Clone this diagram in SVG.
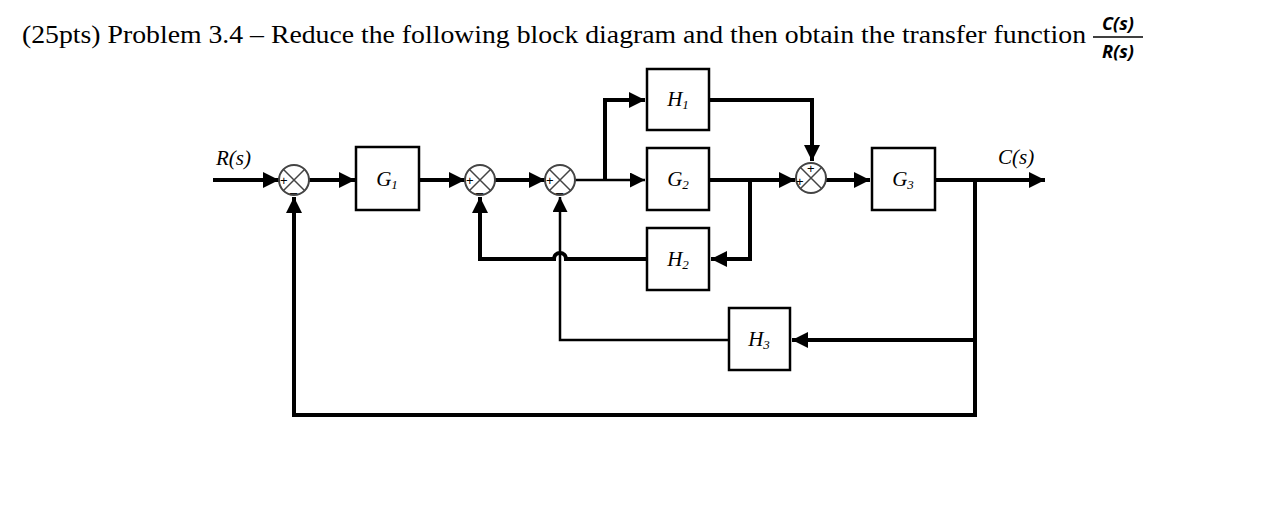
<svg xmlns="http://www.w3.org/2000/svg" width="1264" height="506" viewBox="0 0 1264 506">
<style>
.t{font-family:"Liberation Serif",serif;font-size:26px;fill:#000}
.lb{font-family:"Liberation Serif",serif;font-style:italic;font-size:21px;fill:#000}
.s{font-family:"Liberation Sans",sans-serif;font-size:13px;fill:#000}
.box{fill:#fff;stroke:#000;stroke-width:2.5}
.sum{fill:#fff;stroke:#444;stroke-width:2}
.w{fill:none;stroke:#000;stroke-width:4}
.wt{fill:none;stroke:#000;stroke-width:2.5}
</style>
<defs>
<marker id="a" viewBox="0 0 10 10" refX="10" refY="5" markerWidth="5" markerHeight="4" orient="auto" markerUnits="strokeWidth"><path d="M0,0L10,5L0,10z" fill="#000"/></marker>
<marker id="b" viewBox="0 0 10 10" refX="10" refY="5" markerWidth="8" markerHeight="6" orient="auto" markerUnits="strokeWidth"><path d="M0,0L10,5L0,10z" fill="#000"/></marker>
</defs>
<text class="t" x="22" y="43" textLength="1064" lengthAdjust="spacingAndGlyphs">(25pts) Problem 3.4 – Reduce the following block diagram and then obtain the transfer function</text>
<g font-family="'Noto Sans',sans-serif" font-style="italic" font-weight="bold" font-size="18" text-anchor="middle"><text x="1118" y="30">C(s)</text><text x="1118" y="58">R(s)</text></g>
<line x1="1093" y1="37" x2="1143" y2="37" stroke="#000" stroke-width="1.5"/>
<g id="connectors">
<path class="w" d="M213,180H279" marker-end="url(#a)"/>
<path class="w" d="M309,180H355" marker-end="url(#a)"/>
<path class="w" d="M419,180H465" marker-end="url(#a)"/>
<path class="w" d="M495,180H545" marker-end="url(#a)"/>
<path class="wt" d="M575,180H645" marker-end="url(#b)"/>
<path class="w" d="M605,180V100H645" marker-end="url(#a)"/>
<path class="w" d="M709,100H812V161" marker-end="url(#a)"/>
<path class="w" d="M709,180H795" marker-end="url(#a)"/>
<path class="w" d="M750,180V259H711" marker-end="url(#a)"/>
<path class="w" d="M647,259H566A6,6 0 0 0 554,259H480V197" marker-end="url(#a)"/>
<path class="w" d="M826,180H870" marker-end="url(#a)"/>
<path class="w" d="M935,180H1045" marker-end="url(#a)"/>
<path class="w" d="M975,180V340H792" marker-end="url(#a)"/>
<path class="wt" d="M729,340H560V197" marker-end="url(#b)"/>
<path class="w" d="M975,340V415H294V197" marker-end="url(#a)"/>
</g>
<g id="S1"><circle class="sum" cx="294" cy="180" r="15"/><path d="M283,169L305,191M305,169L283,191" stroke="#444" stroke-width="1.5"/><text class="s" x="280" y="185">+</text><text class="s" x="290" y="197">–</text></g>
<g id="S2"><circle class="sum" cx="480" cy="180" r="15"/><path d="M469,169L491,191M491,169L469,191" stroke="#444" stroke-width="1.5"/><text class="s" x="466" y="185">+</text><text class="s" x="476" y="197">–</text></g>
<g id="S3"><circle class="sum" cx="560" cy="180" r="15"/><path d="M549,169L571,191M571,169L549,191" stroke="#444" stroke-width="1.5"/><text class="s" x="546" y="185">+</text><text class="s" x="556" y="197">–</text></g>
<g id="S4"><circle class="sum" cx="811" cy="178" r="15"/><path d="M800,167L822,189M822,167L800,189" stroke="#444" stroke-width="1.5"/><text class="s" x="807" y="173">+</text><text class="s" x="796" y="186">+</text></g>
<g id="G1"><rect class="box" x="356" y="147" width="63" height="63"/><text class="lb" x="387" y="186" text-anchor="middle">G<tspan font-size="13" dy="3">1</tspan></text></g>
<g id="H1"><rect class="box" x="647" y="69" width="62" height="61"/><text class="lb" x="678" y="106" text-anchor="middle">H<tspan font-size="13" dy="3">1</tspan></text></g>
<g id="G2"><rect class="box" x="647" y="148" width="62" height="62"/><text class="lb" x="678" y="186" text-anchor="middle">G<tspan font-size="13" dy="3">2</tspan></text></g>
<g id="H2"><rect class="box" x="647" y="228" width="62" height="62"/><text class="lb" x="678" y="266" text-anchor="middle">H<tspan font-size="13" dy="3">2</tspan></text></g>
<g id="G3"><rect class="box" x="872" y="148" width="63" height="62"/><text class="lb" x="903" y="186" text-anchor="middle">G<tspan font-size="13" dy="3">3</tspan></text></g>
<g id="H3"><rect class="box" x="729" y="308" width="61" height="62"/><text class="lb" x="759" y="346" text-anchor="middle">H<tspan font-size="13" dy="3">3</tspan></text></g>
<text class="lb" x="216" y="165" font-size="17">R(s)</text>
<text class="lb" x="998" y="164" font-size="17">C(s)</text>
</svg>
